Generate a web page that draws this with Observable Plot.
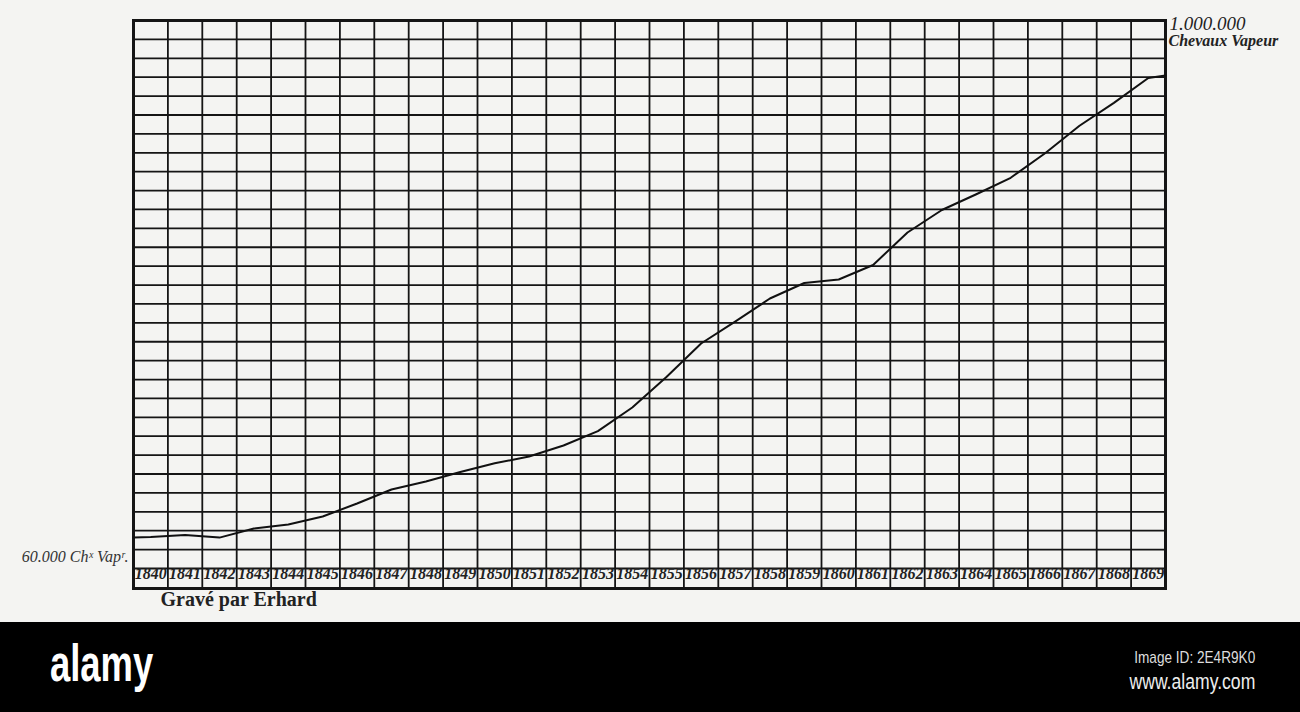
<!DOCTYPE html>
<html>
<head>
<meta charset="utf-8">
<script src="https://cdn.jsdelivr.net/npm/d3@7"></script>
<script src="https://cdn.jsdelivr.net/npm/@observablehq/plot@0.6"></script>
<style>
  html, body { margin: 0; padding: 0; background: #f4f4f2; width: 1300px; overflow: hidden; }
  #chart svg { display: block; }
  #band { position: relative; width: 1300px; height: 90px; background: #000; color: #fff; font-family: "Liberation Sans", "DejaVu Sans", sans-serif; }
  #logo { position: absolute; left: 50px; top: 15px; font-size: 52px; line-height: 1; font-weight: bold; transform: scaleX(0.7); transform-origin: left top; }
  #imgid { position: absolute; right: 45px; top: 27px; font-size: 17px; line-height: 1; color: #ddd; transform: scaleX(0.8); transform-origin: right top; }
  #url { position: absolute; right: 45px; top: 49px; font-size: 22px; line-height: 1; color: #eee; transform: scaleX(0.8); transform-origin: right top; }
</style>
</head>
<body>
<div id="chart"></div>
<div id="band"><span id="logo">alamy</span><span id="imgid">Image ID: 2E4R9K0</span><span id="url">www.alamy.com</span></div>
<script>
// Years (one column each)
const years = [1840, 1841, 1842, 1843, 1844, 1845, 1846, 1847, 1848, 1849,
               1850, 1851, 1852, 1853, 1854, 1855, 1856, 1857, 1858, 1859,
               1860, 1861, 1862, 1863, 1864, 1865, 1866, 1867, 1868, 1869];
// Horse-power read at the middle of each year's column
const horsepower = [114000, 117500, 113000, 128600, 135500, 149200, 171500, 195500, 209200, 225500,
                    240500, 252100, 271000, 295700, 336200, 389000, 446000, 484000, 523100, 549700,
                    555700, 580600, 636400, 674900, 702000, 730200, 772200, 819400, 858800, 901400];
// Readings where the curve meets the left and right borders
const startReading = 113000;
const endReading = 905700;
// Scale extremes and texts
const yMin = 60000;
const yMax = 1000000;
const rowCount = 29;
const baseLabel = "60.000 Chˣ Vapʳ.";
const topLabel = ["1.000.000", "Chevaux Vapeur"];
const credit = "Gravé par Erhard";

const x0 = years[0] - 0.5;
const x1 = years[years.length - 1] + 0.5;
const gridX = d3.range(years.length + 1).map(i => x0 + i);
const gridY = d3.range(rowCount + 1).map(i => yMin + i * (yMax - yMin) / rowCount);
const curve = [{year: x0, hp: startReading}]
  .concat(years.map((y, i) => ({year: y, hp: horsepower[i]})))
  .concat([{year: x1, hp: endReading}]);

const ink = "#151515";
const serif = "'Liberation Serif', 'DejaVu Serif', serif";

const chart = Plot.plot({
  width: 1300,
  height: 622,
  marginLeft: 133,
  marginRight: 135,
  marginTop: 20,
  marginBottom: 34,
  x: {type: "linear", domain: [x0, x1], axis: null},
  y: {domain: [yMin, yMax], range: [568, 20], axis: null},
  style: {background: "#f4f4f2", color: ink},
  marks: [
    Plot.ruleY(gridY, {stroke: ink, strokeWidth: 1.8}),
    Plot.ruleX(gridX, {stroke: ink, strokeWidth: 1.8}),
    Plot.frame({stroke: ink, strokeWidth: 3}),
    Plot.line(curve, {x: "year", y: "hp", stroke: "#111", strokeWidth: 2}),
    Plot.text(years, {x: d => d, text: d => String(d), frameAnchor: "bottom", dy: -10,
      fontSize: 16, fontStyle: "italic", fontWeight: "bold", fontFamily: serif, fill: "#222"}),
    Plot.text([baseLabel], {frameAnchor: "bottom-left", textAnchor: "end", dx: -5, dy: -27,
      fontSize: 16, fontStyle: "italic", fontFamily: serif, fill: "#333"}),
    Plot.text([topLabel[0]], {frameAnchor: "top-right", textAnchor: "start", dx: 4, dy: -4,
      fontSize: 19, fontStyle: "italic", fontFamily: serif, fill: "#222"}),
    Plot.text([topLabel[1]], {frameAnchor: "top-right", textAnchor: "start", dx: 3, dy: 14,
      fontSize: 16, fontStyle: "italic", fontWeight: "bold", fontFamily: serif, fill: "#222"}),
    Plot.text([credit], {frameAnchor: "bottom-left", textAnchor: "start", dx: 27, dy: 17,
      fontSize: 20, fontWeight: "bold", fontFamily: serif, fill: "#222"})
  ]
});
document.getElementById("chart").appendChild(chart);
</script>
</body>
</html>
